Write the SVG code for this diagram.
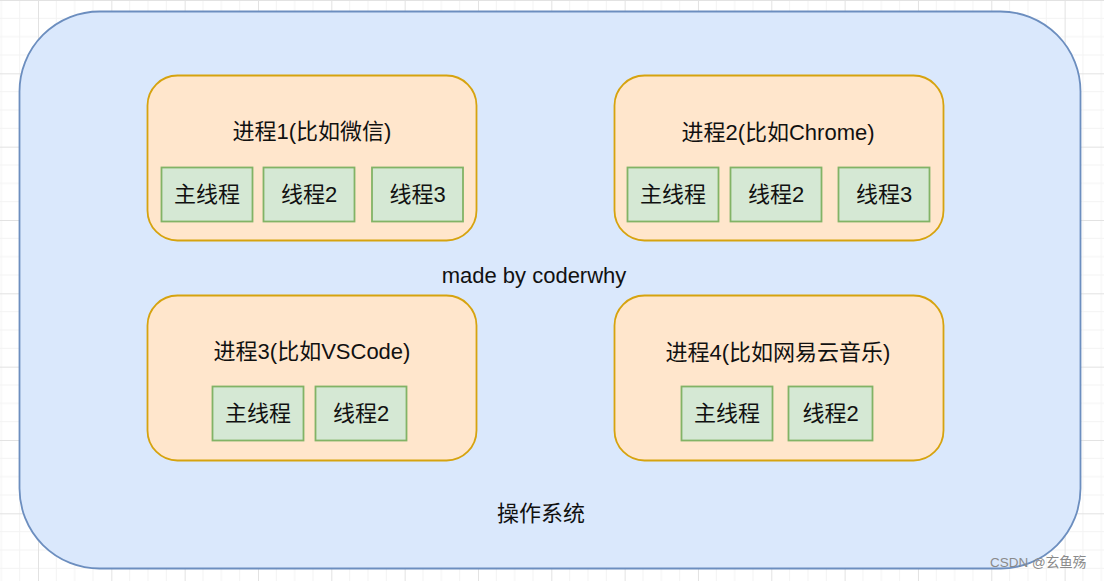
<svg xmlns="http://www.w3.org/2000/svg" width="1104" height="581" viewBox="0 0 1104 581">
<defs>
<pattern id="grid" x="38" y="0" width="73.33" height="73.33" patternUnits="userSpaceOnUse">
<path d="M18.33 0V73.33M36.67 0V73.33M55 0V73.33M0 18.33H73.33M0 36.67H73.33M0 55H73.33" stroke="#f3f3f3" stroke-width="1" fill="none"/>
<path d="M0.5 0V73.33M0 0.5H73.33" stroke="#e2e2e2" stroke-width="1" fill="none"/>
</pattern>
<style>
.os{fill:#dae8fc;stroke:#6c8ebf;stroke-width:1.8}
.proc{fill:#ffe6cc;stroke:#d6a30f;stroke-width:1.8}
.th{fill:#d5e8d4;stroke:#82b366;stroke-width:1.8}
text{font-family:"Liberation Sans","Noto Sans CJK SC",sans-serif;font-size:22px;fill:#111;text-anchor:middle}
.wm{font-size:13.5px;fill:#8a8a8a;text-anchor:start}
</style>
</defs>
<rect x="0" y="0" width="1104" height="581" fill="#ffffff"/>
<rect x="0" y="0" width="1104" height="581" fill="url(#grid)"/>

<g id="os">
<rect class="os" x="19.5" y="11.5" width="1061" height="557" rx="80" ry="80"/>
<text x="541" y="521">操作系统</text>
</g>

<text id="label-made" x="534" y="283">made by coderwhy</text>

<g id="proc1">
<rect class="proc" x="147.5" y="75.5" width="329" height="165" rx="30" ry="30"/>
<text x="312" y="139">进程1(比如微信)</text>
</g>
<g id="p1t1"><rect class="th" x="161.5" y="167.5" width="91" height="54"/><text x="207" y="201.5">主线程</text></g>
<g id="p1t2"><rect class="th" x="263.5" y="167.5" width="91" height="54"/><text x="309" y="201.5">线程2</text></g>
<g id="p1t3"><rect class="th" x="372" y="167.5" width="91" height="54"/><text x="417.5" y="201.5">线程3</text></g>

<g id="proc2">
<rect class="proc" x="614.5" y="75.5" width="329" height="165" rx="30" ry="30"/>
<text x="778" y="139.5">进程2(比如Chrome)</text>
</g>
<g id="p2t1"><rect class="th" x="627.5" y="167.5" width="91" height="54"/><text x="673" y="201.5">主线程</text></g>
<g id="p2t2"><rect class="th" x="730.5" y="167.5" width="91" height="54"/><text x="776" y="201.5">线程2</text></g>
<g id="p2t3"><rect class="th" x="838.5" y="167.5" width="91" height="54"/><text x="884" y="201.5">线程3</text></g>

<g id="proc3">
<rect class="proc" x="147.5" y="295.5" width="329" height="165" rx="30" ry="30"/>
<text x="312" y="359">进程3(比如VSCode)</text>
</g>
<g id="p3t1"><rect class="th" x="212.5" y="386.5" width="91" height="54"/><text x="258" y="421">主线程</text></g>
<g id="p3t2"><rect class="th" x="315.5" y="386.5" width="91" height="54"/><text x="361" y="421">线程2</text></g>

<g id="proc4">
<rect class="proc" x="614.5" y="295.5" width="329" height="165" rx="30" ry="30"/>
<text x="778" y="360">进程4(比如网易云音乐)</text>
</g>
<g id="p4t1"><rect class="th" x="681.5" y="386.5" width="91" height="54"/><text x="727" y="421">主线程</text></g>
<g id="p4t2"><rect class="th" x="788.5" y="386.5" width="84" height="54"/><text x="830.5" y="421">线程2</text></g>

<g id="connectors"></g>

<text class="wm" x="990" y="567">CSDN @玄鱼殇</text>
</svg>
